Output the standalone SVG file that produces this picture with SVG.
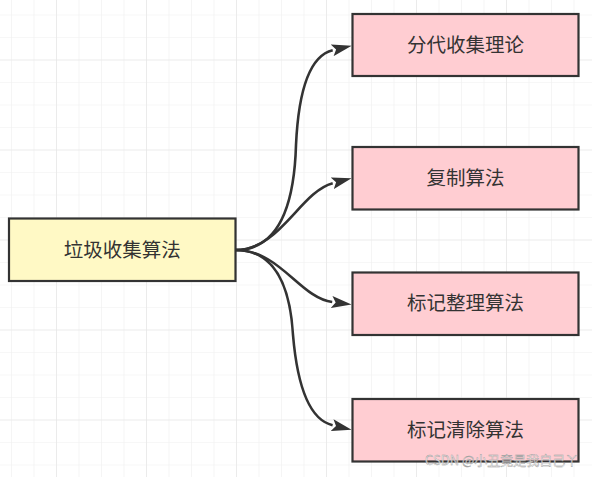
<svg xmlns="http://www.w3.org/2000/svg" width="592" height="477" viewBox="0 0 592 477">
<defs>
  <pattern id="minor" x="11" y="14.5" width="22.5" height="22.5" patternUnits="userSpaceOnUse">
    <path d="M0,0 V22.5 M0,0 H22.5" fill="none" stroke="#efefef" stroke-width="1.2"/>
  </pattern>
  <pattern id="major" x="56" y="59.5" width="90" height="90" patternUnits="userSpaceOnUse">
    <path d="M0,0 V90 M0,0 H90" fill="none" stroke="#e4e4e4" stroke-width="1.2"/>
  </pattern>
  <marker id="arrow" markerUnits="userSpaceOnUse" viewBox="0 0 20 12" markerWidth="20" markerHeight="12" refX="0.5" refY="6" orient="auto">
    <path d="M0,0 L20,6 L0,12 L4,6 Z" fill="#333333"/>
  </marker>
</defs>
<style>
  .box { stroke: #333333; stroke-width: 2.2; }
  .root { fill: #fff9c5; }
  .leaf { fill: #ffcdd2; }
  .label { font-family: "Noto Sans CJK SC", "Microsoft YaHei", sans-serif; font-size: 19.5px; fill: #333333; text-anchor: middle; }
  .edge { fill: none; stroke: #333333; stroke-width: 2.6; marker-end: url(#arrow); }
  .wm { font-family: "Noto Sans CJK SC", "Liberation Sans", sans-serif; font-size: 13px; fill: rgba(255,255,255,0.75); stroke: #9a9a9a; stroke-width: 0.4; }
</style>
<rect width="592" height="477" fill="#ffffff"/>
<rect width="592" height="477" fill="url(#minor)"/>
<rect width="592" height="477" fill="url(#major)"/>

<g id="connectors">
  <path class="edge" d="M235.5,250 Q293,250 296,145 Q300,58 332.7,50.2"/>
  <path class="edge" d="M235.5,250 C280,250 300,192 332.7,183.2"/>
  <path class="edge" d="M235.5,250 C280,250 300,298 332.2,302"/>
  <path class="edge" d="M235.5,250 Q288,250 293,335 Q300,417.5 332.6,425.2"/>
</g>

<g id="node-root">
  <rect class="box root" x="9" y="218.5" width="226.5" height="62.5"/>
  <text class="label" x="122.3" y="256.8">垃圾收集算法</text>
</g>
<g id="node-generational">
  <rect class="box leaf" x="352.5" y="14" width="226" height="62"/>
  <text class="label" x="465.5" y="51.8">分代收集理论</text>
</g>
<g id="node-copying">
  <rect class="box leaf" x="352.5" y="147" width="226" height="62.5"/>
  <text class="label" x="465.5" y="184.8">复制算法</text>
</g>
<g id="node-mark-compact">
  <rect class="box leaf" x="352.5" y="272.5" width="226" height="62.5"/>
  <text class="label" x="465.5" y="310.3">标记整理算法</text>
</g>
<g id="node-mark-sweep">
  <rect class="box leaf" x="352.5" y="399" width="226" height="62.5"/>
  <text class="label" x="465.5" y="436.8">标记清除算法</text>
</g>

<text class="wm" x="425" y="465">CSDN @小丑竟是我自己丫</text>
</svg>
